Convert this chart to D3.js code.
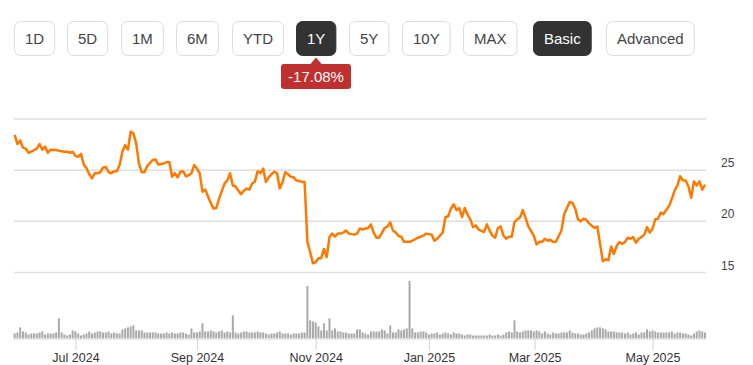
<!DOCTYPE html>
<html>
<head>
<meta charset="utf-8">
<script src="https://cdn.jsdelivr.net/npm/d3@7"></script>
<style>
  body { margin: 0; background: #fff; }
  svg { display: block; font-family: "Liberation Sans", Arial, sans-serif; }
</style>
</head>
<body>
<div id="chart"></div>
<script>
// range buttons
var buttons = ["1D", "5D", "1M", "6M", "YTD", "1Y", "5Y", "10Y", "MAX", "Basic", "Advanced"];
var activeButtons = ["1Y", "Basic"];
var changeText = "-17.08%";

// trading day index (0 = first day of the 1Y window) and closing price
var priceDay = [0,1,2,3,4,5,7,8,9,10,11,12,13,15,16,18,19,20,21,22,23,24,25,26,27,28,29,30,31,32,33,34,35,36,37,38,39,40,41,42,43,44,45,46,47,48,50,51,52,54,55,56,57,58,59,60,61,62,63,64,65,66,67,68,69,70,71,72,73,74,76,77,78,79,80,81,82,83,84,85,86,87,88,89,90,91,92,93,94,95,96,97,98,99,100,101,102,103,104,105,106,107,108,109,110,111,112,113,114,115,116,117,118,119,120,121,123,124,125,126,127,128,129,130,131,132,134,135,136,137,138,139,140,141,143,144,146,148,149,151,152,153,155,156,157,158,159,160,161,162,163,164,165,166,167,168,170,171,172,173,174,175,176,177,178,179,180,181,182,183,184,185,186,188,189,190,191,192,193,194,195,196,198,199,200,201,202,203,204,205,206,207,208,210,211,212,213,214,215,216,217,218,219,220,221,222,223,224,225,226,227,228,229,230,231,232,233,234,235,236,237,238,239,240,241,242,243,244,245,246,247,248,249,250];
var priceVal = [28.45,27.55,27.9,27.2,27.1,26.7,26.96,27.1,27.55,27.0,27.3,26.7,27.0,26.96,26.9,26.8,26.8,26.7,26.8,26.4,26.3,26.6,25.55,25.2,24.6,24.2,24.7,24.7,24.8,25.26,25.3,24.8,24.7,24.9,24.9,25.5,26.8,27.45,27.0,28.76,28.6,27.6,25.65,24.8,24.8,25.4,26.0,26.05,25.55,25.65,25.8,25.8,24.35,24.7,24.3,24.85,24.9,24.4,24.5,24.7,25.5,25.16,24.7,22.9,23.1,22.45,21.8,21.24,21.3,22.2,23.7,24.0,24.7,23.5,23.4,23.0,22.65,23.0,23.2,23.1,23.7,23.9,24.9,24.7,25.16,23.85,24.3,24.6,24.85,24.7,23.2,23.85,24.8,24.6,24.35,24.3,24.0,23.95,23.85,23.85,18.0,17.0,15.9,16.0,16.4,16.4,17.3,16.5,18.46,18.8,18.5,18.8,18.8,18.9,19.1,18.8,18.7,18.8,19.3,19.2,19.3,19.35,19.7,18.9,18.4,18.4,19.35,19.5,19.9,19.1,18.9,18.56,18.5,18.0,18.0,18.1,18.4,18.6,18.8,18.7,18.1,18.3,18.9,20.4,20.5,21.24,21.67,21.1,21.3,20.4,21.3,20.65,20.2,19.44,19.6,19.2,18.95,19.7,19.1,18.6,18.4,19.35,19.5,18.6,18.3,18.5,18.5,19.93,20.2,20.36,21.1,20.36,19.5,18.6,17.75,18.0,18.0,18.3,18.1,18.2,17.97,18.0,19.1,20.7,21.3,21.9,21.8,21.24,20.2,20.0,20.26,20.16,19.8,19.35,19.5,17.8,16.1,16.3,16.2,17.55,16.8,17.6,17.97,17.8,17.97,18.4,18.3,18.46,17.9,18.3,18.46,18.7,19.44,18.9,19.3,20.2,20.26,20.85,20.7,21.14,21.5,22.2,23.0,23.5,24.4,24.0,24.0,23.4,22.3,23.9,23.5,23.9,23.1,23.59];

// daily volume (millions), one per trading day 0..250
var volumes = [0.5,0.6,1.1,0.7,0.6,0.4,0.5,0.5,0.5,0.6,
  0.7,0.4,0.5,0.5,0.5,0.6,2.0,0.6,0.4,0.3,
  0.4,0.8,0.7,0.5,0.3,0.4,0.5,0.7,0.5,0.6,
  0.7,0.7,0.6,0.6,0.7,0.5,0.6,0.5,0.5,0.9,
  1.0,1.1,1.2,1.3,0.8,0.8,0.8,0.6,0.6,0.6,
  0.6,0.6,0.5,0.5,0.5,0.6,0.5,0.6,0.5,0.5,
  0.6,0.6,0.5,0.4,1.0,0.6,0.6,0.7,1.5,0.7,
  0.7,0.8,0.7,0.6,0.7,0.8,0.6,0.7,0.6,2.3,
  0.6,0.5,0.6,0.7,0.7,0.6,0.6,0.6,0.7,0.6,
  0.6,0.5,0.4,0.5,0.5,0.6,0.7,0.5,0.5,0.5,
  0.4,0.5,0.5,0.5,0.6,0.6,5.2,1.8,1.7,1.6,
  1.2,0.8,1.5,0.8,2.0,0.8,1.0,0.7,0.7,0.6,
  0.6,0.5,0.5,0.5,0.9,0.9,0.6,0.5,0.4,0.7,
  0.7,0.7,0.7,0.9,0.8,0.5,1.3,0.6,0.6,0.9,
  0.8,0.9,1.0,5.7,1.0,0.6,0.6,0.7,0.7,0.6,
  0.4,0.5,0.5,0.6,0.4,0.5,0.6,0.5,0.4,0.6,
  0.5,0.5,0.4,0.3,0.4,0.4,0.3,0.3,0.3,0.3,
  0.3,0.3,0.4,0.3,0.3,0.4,0.3,0.4,0.6,0.7,
  0.6,1.8,0.7,0.6,0.7,0.8,0.8,0.8,0.7,0.8,
  0.7,0.5,0.7,0.5,0.4,0.6,0.5,0.5,0.6,0.6,
  0.6,0.8,0.6,0.5,0.5,0.4,0.4,0.5,0.6,0.8,
  1.0,1.1,1.1,1.0,0.9,0.7,0.7,0.7,0.6,0.6,
  0.6,0.5,0.6,0.4,0.5,0.6,0.4,0.6,0.6,0.9,
  0.7,0.8,0.7,0.6,0.6,0.6,0.6,0.6,0.7,0.5,
  0.6,0.6,0.5,0.5,0.4,0.3,0.5,0.7,0.8,0.7,0.6];

// x axis month labels and the trading day they sit on
var tickDay = [22, 66, 109, 150, 188.3, 231];
var tickLabels = ["Jul 2024", "Sep 2024", "Nov 2024", "Jan 2025", "Mar 2025", "May 2025"];
var gridValues = [15, 20, 25, 30];
var yLabelValues = [15, 20, 25];

var width = 753, height = 365;
var svg = d3.select("#chart").append("svg").attr("width", width).attr("height", height);

// ---- buttons row
var btnLeft = [14, 67, 121, 176, 232, 296, 349, 402, 463, 533, 606];
var btnTop = 21, btnH = 34;
var btn = svg.append("g").selectAll("g").data(buttons).enter().append("g");
btn.each(function (d, i) {
    var g = d3.select(this);
    var on = activeButtons.indexOf(d) >= 0;
    var rect = g.append("rect")
        .attr("x", btnLeft[i] + 0.5).attr("y", btnTop + 0.5)
        .attr("height", btnH).attr("rx", 6)
        .style("fill", on ? "#333" : "#fff")
        .style("stroke", on ? "#333" : "#dcdcdc");
    var t = g.append("text")
        .attr("y", btnTop + btnH / 2 + 0.5)
        .attr("dy", "0.35em")
        .attr("text-anchor", "middle")
        .style("font-size", "15px")
        .style("fill", on ? "#fff" : "#444")
        .text(d);
    var w = t.node().getComputedTextLength() + 21;
    rect.attr("width", w);
    t.attr("x", btnLeft[i] + 0.5 + w / 2);
});

// change badge under the active range button
var badge = svg.append("g");
var bx = 316;
badge.append("rect").attr("x", bx - 35).attr("y", 64).attr("width", 70).attr("height", 25)
    .attr("rx", 3).style("fill", "#c0302e");
badge.append("path")
    .attr("d", "M" + (bx - 6) + ",64.5L" + bx + ",57.5L" + (bx + 6) + ",64.5Z")
    .style("fill", "#c0302e");
badge.append("text").attr("x", bx).attr("y", 76.5).attr("dy", "0.35em")
    .attr("text-anchor", "middle").style("font-size", "15px").style("fill", "#fff")
    .text(changeText);

// ---- scales
var x = d3.scaleLinear().domain([0, 250]).range([14.7, 705]);
var y = d3.scaleLinear().domain([15, 30]).range([272.5, 119]);
var yVol = d3.scaleLinear().domain([0, d3.max(volumes)]).range([338.5, 281]);

// gridlines
svg.append("g").selectAll("line").data(gridValues).enter().append("line")
    .attr("x1", 14).attr("x2", 706)
    .attr("y1", function (d) { return y(d); })
    .attr("y2", function (d) { return y(d); })
    .style("stroke", "#dedede").style("stroke-width", 1.5);

// y labels on the right
var yAxis = d3.axisRight(y).tickValues(yLabelValues).tickSize(0).tickPadding(15);
var yg = svg.append("g").attr("transform", "translate(706,0)").call(yAxis);
yg.select(".domain").remove();
yg.selectAll("text").attr("dy", "-3.5px").style("font-size", "12px")
    .style("fill", "#444").style("font-family", "Liberation Sans, Arial, sans-serif");

// volume bars
svg.append("g").selectAll("rect").data(volumes).enter().append("rect")
    .attr("x", function (d, i) { return x(i) - 1; })
    .attr("width", 2)
    .attr("y", function (d) { return yVol(d); })
    .attr("height", function (d) { return yVol(0) - yVol(d); })
    .style("fill", "#a9a9a9");

// x axis
var xAxis = d3.axisBottom(x).tickValues(tickDay)
    .tickFormat(function (d, i) { return tickLabels[i]; })
    .tickSize(11).tickPadding(3);
var xg = svg.append("g").attr("transform", "translate(0,339)").call(xAxis);
xg.select(".domain").attr("d", "M14,0.5H706").style("stroke", "#e8e8e8");
xg.selectAll(".tick line").style("stroke", "#d4d4d4");
xg.selectAll("text").style("font-size", "12.5px").style("fill", "#333")
    .style("font-family", "Liberation Sans, Arial, sans-serif");

// price line
var pts = priceDay.map(function (d, i) { return [d, priceVal[i]]; });
var line = d3.line()
    .x(function (d) { return x(d[0]); })
    .y(function (d) { return y(d[1]); });
svg.append("path").datum(pts)
    .attr("d", line)
    .style("fill", "none")
    .style("stroke", "#ff7800")
    .style("stroke-width", 2.5)
    .style("stroke-linejoin", "round");
</script>
</body>
</html>
